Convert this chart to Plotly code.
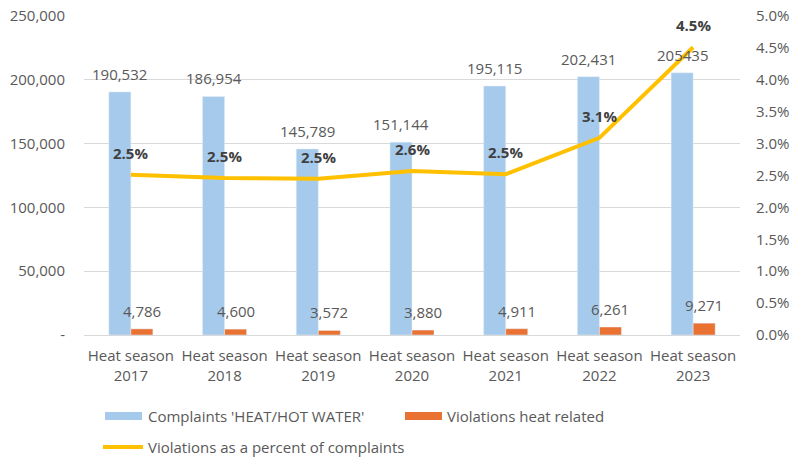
import plotly.graph_objects as go

seasons = ["2017", "2018", "2019", "2020", "2021", "2022", "2023"]
categories = [f"Heat season<br>{s}" for s in seasons]
complaints = [190532, 186954, 145789, 151144, 195115, 202431, 205435]
complaint_labels = ["190,532", "186,954", "145,789", "151,144", "195,115", "202,431", "205435"]
violations = [4786, 4600, 3572, 3880, 4911, 6261, 9271]
violation_labels = ["4,786", "4,600", "3,572", "3,880", "4,911", "6,261", "9,271"]
pct = [0.0251, 0.0246, 0.02451, 0.0257, 0.0252, 0.0309, 0.0451]
pct_labels = ["2.5%", "2.5%", "2.5%", "2.6%", "2.5%", "3.1%", "4.5%"]

BLUE = "#A6CAEC"
ORANGE = "#E97132"
YELLOW = "#FFC000"
GREY = "#595959"
DARK = "#404040"
FONT = "Open Sans"

fig = go.Figure()
fig.add_trace(go.Bar(x=categories, y=complaints, name="Complaints 'HEAT/HOT WATER'",
                     marker_color=BLUE, showlegend=False))
fig.add_trace(go.Bar(x=categories, y=violations, name="Violations heat related",
                     marker_color=ORANGE, showlegend=False))
fig.add_trace(go.Scatter(x=categories, y=pct, name="Violations as a percent of complaints",
                         mode="lines", line=dict(color=YELLOW, width=4), yaxis="y2",
                         showlegend=False))

ann = []
for c, v, t in zip(categories, complaints, complaint_labels):
    ann.append(dict(x=c, y=v, xref="x", yref="y", text=t, showarrow=False,
                    xshift=-11, yshift=18, yanchor="middle",
                    font=dict(family=FONT, size=15, color=GREY)))
for c, v, t in zip(categories, violations, violation_labels):
    ann.append(dict(x=c, y=v, xref="x", yref="y", text=t, showarrow=False,
                    xshift=11, yshift=18, yanchor="middle",
                    font=dict(family=FONT, size=15, color=GREY)))
for c, v, t in zip(categories, pct, pct_labels):
    ann.append(dict(x=c, y=v, xref="x", yref="y2", text=f"<b>{t}</b>", showarrow=False,
                    yshift=22, yanchor="middle",
                    font=dict(family=FONT, size=15, color=DARK)))

# manual legend (paper coords: plot area x 84..740, y 16..335)
W, L, T, B = 656.0, 84.0, 16.0, 335.0
def px(x):
    return (x - L) / W
def py(y):
    return (B - y) / (B - T)

shapes = [
    dict(type="rect", xref="paper", yref="paper", x0=px(105), x1=px(142), y0=py(420), y1=py(412),
         fillcolor=BLUE, line=dict(width=0)),
    dict(type="rect", xref="paper", yref="paper", x0=px(405), x1=px(442), y0=py(420), y1=py(412),
         fillcolor=ORANGE, line=dict(width=0)),
    dict(type="line", xref="paper", yref="paper", x0=px(103), x1=px(143), y0=py(447), y1=py(447),
         line=dict(color=YELLOW, width=4)),
]
legend_items = [
    ("Complaints 'HEAT/HOT WATER'", 146, 416),
    ("Violations heat related", 445, 416),
    ("Violations as a percent of complaints", 146, 447),
]
for t, x, y in legend_items:
    ann.append(dict(x=px(x), y=py(y), xref="paper", yref="paper", text=t, showarrow=False,
                    xanchor="left", yanchor="middle",
                    font=dict(family=FONT, size=15, color=GREY)))

fig.update_layout(
    width=800, height=465,
    margin=dict(l=84, r=60, t=16, b=130, autoexpand=False),
    paper_bgcolor="white", plot_bgcolor="white",
    barmode="group", bargap=0.53, bargroupgap=0,
    font=dict(family=FONT, size=15, color=GREY),
    xaxis=dict(showline=False, ticks="", tickfont=dict(size=15, color=GREY),
               showgrid=False, ticklabelstandoff=10),
    yaxis=dict(range=[0, 250000], tickvals=[0, 50000, 100000, 150000, 200000, 250000],
               ticktext=["-", "50,000", "100,000", "150,000", "200,000", "250,000"],
               showgrid=True, gridcolor="#D9D9D9", gridwidth=1, zeroline=True,
               zerolinecolor="#D9D9D9", zerolinewidth=1, ticks="", ticklabelstandoff=18,
               tickfont=dict(size=15, color=GREY)),
    yaxis2=dict(range=[0, 0.05], dtick=0.005, tickformat=".1%", overlaying="y", side="right",
                showgrid=False, zeroline=False, ticks="", ticklabelstandoff=15,
                tickfont=dict(size=15, color=GREY)),
    annotations=ann, shapes=shapes, showlegend=False,
)

fig.write_html("out.html")
